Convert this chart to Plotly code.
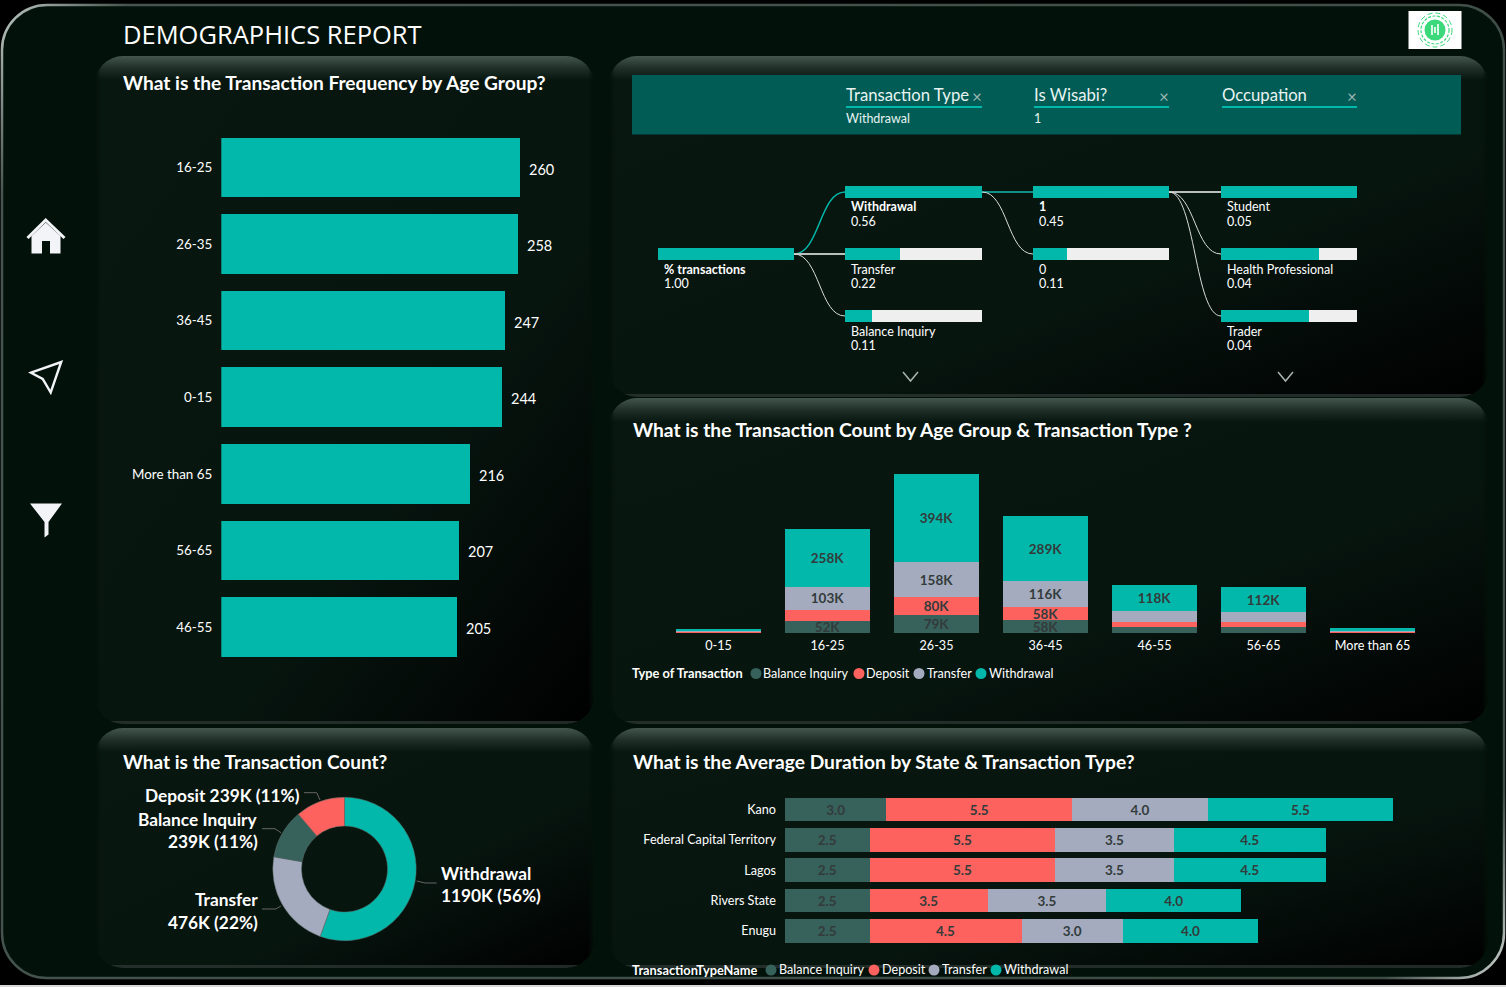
import base64
import plotly.graph_objects as go

W, H = 1506, 987
FONT = "Lato"
TEAL, RED, GREY, DARK = "#01B8AA", "#FD625E", "#A4ABBF", "#37615B"
TYPE_COLORS = [DARK, RED, GREY, TEAL]
TYPES = ["Balance Inquiry", "Deposit", "Transfer", "Withdrawal"]

# ---- data ----
freq_groups = ["16-25", "26-35", "36-45", "0-15", "More than 65", "56-65", "46-55"]
freq_values = [260, 258, 247, 244, 216, 207, 205]

age_groups = ["0-15", "16-25", "26-35", "36-45", "46-55", "56-65", "More than 65"]
age_balance = [3, 52, 79, 58, 27, 25, 3]
age_deposit = [2, 52, 80, 58, 24, 22, 3]
age_transfer = [4, 103, 158, 116, 47, 45, 5]
age_withdrawal = [5, 258, 394, 289, 118, 112, 13]
age_balance_lbl = ["", "52K", "79K", "58K", "", "", ""]
age_deposit_lbl = ["", "", "80K", "58K", "", "", ""]
age_transfer_lbl = ["", "103K", "158K", "116K", "", "", ""]
age_withdrawal_lbl = ["", "258K", "394K", "289K", "118K", "112K", ""]

donut_labels = ["Withdrawal", "Transfer", "Balance Inquiry", "Deposit"]
donut_values = [1190, 476, 239, 239]
donut_colors = [TEAL, GREY, DARK, RED]

states = ["Kano", "Federal Capital Territory", "Lagos", "Rivers State", "Enugu"]
dur_balance = [3.0, 2.5, 2.5, 2.5, 2.5]
dur_deposit = [5.5, 5.5, 5.5, 3.5, 4.5]
dur_transfer = [4.0, 3.5, 3.5, 3.5, 3.0]
dur_withdrawal = [5.5, 4.5, 4.5, 4.0, 4.0]

tree_root = ["% transactions"]
tree_root_val = [1.00]
tree_type = ["Withdrawal", "Transfer", "Balance Inquiry"]
tree_type_val = [0.556, 0.224, 0.111]
tree_wisabi = ["1", "0"]
tree_wisabi_val = [0.445, 0.11]
tree_occ = ["Student", "Health Professional", "Trader"]
tree_occ_val = [0.054, 0.039, 0.0351]
tree_headers = ["Transaction Type", "Is Wisabi?", "Occupation"]
tree_header_sub = ["Withdrawal", "1", ""]


def px(x):
    return x / W


def py(y):
    return 1 - y / H


def panel(i, x, y, w, h, r=28):
    return f'''
<clipPath id="c{i}"><rect x="{x}" y="{y}" width="{w}" height="{h}" rx="{r}"/></clipPath>
<g clip-path="url(#c{i})">
<rect x="{x}" y="{y}" width="{w}" height="{h}" fill="url(#pg)"/>
<rect x="{x}" y="{y}" width="{w}" height="24" fill="url(#top)"/>
<rect x="{x}" y="{y}" width="6" height="{h}" fill="url(#lft)"/>
<rect x="{x+w-6}" y="{y}" width="6" height="{h}" fill="url(#rgt)"/>
<rect x="{x}" y="{y+h-3}" width="{w}" height="3" fill="#2a3531" opacity="0.8"/>
</g>'''


svg = f'''<svg xmlns="http://www.w3.org/2000/svg" width="{W}" height="{H}" viewBox="0 0 {W} {H}">
<defs>
<linearGradient id="pg" x1="0" y1="0" x2="1" y2="1">
<stop offset="0" stop-color="#08170f"/><stop offset="0.62" stop-color="#07150f"/><stop offset="1" stop-color="#000"/></linearGradient>
<linearGradient id="top" x1="0" y1="0" x2="0" y2="1">
<stop offset="0" stop-color="#43564e"/><stop offset="0.5" stop-color="#1f3029"/><stop offset="1" stop-color="#1f3029" stop-opacity="0"/></linearGradient>
<linearGradient id="lft" x1="0" y1="0" x2="1" y2="0">
<stop offset="0" stop-color="#031009"/><stop offset="1" stop-color="#031009" stop-opacity="0"/></linearGradient>
<linearGradient id="rgt" x1="1" y1="0" x2="0" y2="0">
<stop offset="0" stop-color="#031009"/><stop offset="1" stop-color="#031009" stop-opacity="0"/></linearGradient>
<linearGradient id="rim" gradientUnits="userSpaceOnUse" x1="0" y1="0" x2="{W}" y2="{H}">
<stop offset="0" stop-color="#c3ccc8"/><stop offset="0.06" stop-color="#46554f"/><stop offset="0.94" stop-color="#3d4b45"/><stop offset="1" stop-color="#d5dcd8"/></linearGradient>
</defs>
<rect width="{W}" height="{H}" fill="#000"/>
<rect x="0" y="985" width="{W}" height="2" fill="#d8d8d8"/>
<rect x="2" y="5" width="1502" height="973" rx="45" fill="#03110b" stroke="url(#rim)" stroke-width="2.5"/>
{panel(1, 95, 56, 499, 668)}
{panel(3, 609, 398, 879, 326)}
{panel(2, 609, 56, 879, 341)}
{panel(4, 95, 728, 499, 240)}
{panel(5, 609, 728, 879, 240)}
<rect x="632" y="75" width="829" height="59.5" fill="#005C55"/>
<path d="M903 372 L910.5 381 L918 372 M1278 372 L1285.5 381 L1293 372" fill="none" stroke="#a9b3af" stroke-width="1.5"/>
<path d="M27.5 238 L45.7 220 L64.5 238" fill="none" stroke="#f3f4f8" stroke-width="3"/>
<path d="M31.5 236 L45.7 222.5 L60.5 236 L60.5 253.5 L50 253.5 L50 241 L42 241 L42 253.5 L31.5 253.5 Z" fill="#f3f4f8"/>
<path d="M31 372.7 L61.2 362 L50.7 392.5 L42.7 379 Z" fill="none" stroke="#f3f4f8" stroke-width="2.4" stroke-linejoin="miter"/>
<path d="M30 503.5 L62 503.5 L48.5 522 L48.5 534.5 L44.5 537.5 L44.5 522 Z" fill="#f3f4f8"/>
<rect x="1408.5" y="11" width="53" height="38" fill="#fff"/>
<circle cx="1435" cy="30" r="10.5" fill="#3bd97c"/>
<circle cx="1435" cy="30" r="14" fill="none" stroke="#3bd97c" stroke-width="1.2" stroke-dasharray="3 1.5"/>
<circle cx="1435" cy="30" r="17" fill="none" stroke="#3bd97c" stroke-width="1" stroke-dasharray="5 3"/>
<path d="M1432 25 V35 M1435 27 V33 M1438 24 V35" stroke="#fff" stroke-width="1.6"/>
</svg>'''
bg_uri = "data:image/svg+xml;base64," + base64.b64encode(svg.encode()).decode()

fig = go.Figure()
annotations, shapes = [], []


def label(x, y, text, size=12.5, color="#ffffff", weight=None, anchor="left", family=FONT):
    t = f"<b>{text}</b>" if weight == "b" else text
    annotations.append(dict(xref="paper", yref="paper", x=px(x), y=py(y), text=t, showarrow=False,
                            xanchor=anchor, yanchor="middle", align=anchor,
                            font=dict(size=size, color=color, family=family), xshift=0, yshift=0,
                            borderpad=0, borderwidth=0))


def line(points, color="#666666", width=1):
    d = "M" + " L".join(f"{px(a):.5f} {py(b):.5f}" for a, b in points)
    shapes.append(dict(type="path", xref="paper", yref="paper", path=d, line=dict(color=color, width=width)))


def legend(y, title, title_x, dots, texts):
    label(title_x, y - 0.5, title, size=12.8, weight="b")
    for n, col, dx, tx in zip(TYPES, TYPE_COLORS, dots, texts):
        shapes.append(dict(type="circle", xref="paper", yref="paper", x0=px(dx - 5.5), x1=px(dx + 5.5),
                           y0=py(y + 5.5), y1=py(y - 5.5), fillcolor=col, line=dict(width=0)))
        label(tx, y - 0.5, n, size=12.6)


# ---- frequency bars ----
fig.add_trace(go.Bar(y=freq_groups, x=freq_values, orientation="h", marker=dict(color=TEAL, line=dict(width=0)),
                     xaxis="x", yaxis="y"))
for g, v in zip(freq_groups, freq_values):
    annotations.append(dict(xref="x", yref="y", x=v, y=g, text=str(v), showarrow=False, xanchor="left",
                            yanchor="middle", xshift=7, yshift=-1.5,
                            font=dict(size=14.5, color="#fff", family=FONT)))

# ---- stacked columns ----
for name, col, vals, lbl in zip(TYPES, TYPE_COLORS, [age_balance, age_deposit, age_transfer, age_withdrawal],
                                [age_balance_lbl, age_deposit_lbl, age_transfer_lbl, age_withdrawal_lbl]):
    fig.add_trace(go.Bar(x=age_groups, y=vals, name=name, marker=dict(color=col, line=dict(width=0)), text=lbl,
                         textposition="inside", insidetextanchor="middle", constraintext="none", textangle=0,
                         cliponaxis=False, textfont=dict(size=13.5, color="#333b3b", family=FONT, weight="bold"),
                         xaxis="x2", yaxis="y2"))

# ---- state durations ----
for name, col, vals in zip(TYPES, TYPE_COLORS, [dur_balance, dur_deposit, dur_transfer, dur_withdrawal]):
    fig.add_trace(go.Bar(y=states, x=vals, name=name, orientation="h", marker=dict(color=col, line=dict(width=0)),
                         text=[f"{v:.1f}" for v in vals], textposition="inside", insidetextanchor="middle",
                         constraintext="none", textangle=0,
                         textfont=dict(size=13.5, color="#333b3b", family=FONT, weight="bold"),
                         xaxis="x3", yaxis="y3"))

# ---- donut ----
fig.add_trace(go.Pie(labels=donut_labels, values=donut_values, hole=0.6, sort=False, direction="clockwise", rotation=0,
                     marker=dict(colors=donut_colors, line=dict(color="#5b6a66", width=0.5)), textinfo="none",
                     domain=dict(x=[px(344.5 - 71.7), px(344.5 + 71.7)], y=[py(869 + 71.7), py(869 - 71.7)])))

# ---- decomposition tree ----
COLS = [(658, 794), (845, 982), (1033, 1169), (1221, 1357)]
ROW_Y = [192, 254, 316]
tree_cols = [(tree_root, tree_root_val, [1]), (tree_type, tree_type_val, [0, 1, 2]),
             (tree_wisabi, tree_wisabi_val, [0, 1]), (tree_occ, tree_occ_val, [0, 1, 2])]
tree_axes = ["x4", "x5", "x6", "x7"]
for (names, vals, rows), xa in zip(tree_cols, tree_axes):
    top = max(vals)
    fig.add_trace(go.Bar(y=rows, x=vals, orientation="h", width=0.19, marker=dict(color=TEAL, line=dict(width=0)),
                         xaxis=xa, yaxis="y4"))
    fig.add_trace(go.Bar(y=rows, x=[top - v for v in vals], orientation="h", width=0.19,
                         marker=dict(color="#EFEFEF", line=dict(width=0)), xaxis=xa, yaxis="y4"))


def link(c0, r0, c1, r1, color, width):
    x0, x1 = COLS[c0][1], COLS[c1][0]
    y0, y1 = ROW_Y[r0], ROW_Y[r1]
    mid = (x0 + x1) / 2
    d = (f"M{px(x0):.5f} {py(y0):.5f} C{px(mid):.5f} {py(y0):.5f} {px(mid):.5f} {py(y1):.5f} "
         f"{px(x1):.5f} {py(y1):.5f}")
    shapes.append(dict(type="path", xref="paper", yref="paper", path=d, line=dict(color=color, width=width)))


link(0, 1, 1, 0, TEAL, 1.5)
link(0, 1, 1, 1, "#b9bfbc", 1.8)
link(0, 1, 1, 2, "#d8dcda", 1)
link(1, 0, 2, 0, "#0f8f85", 1.8)
link(1, 0, 2, 1, "#d8dcda", 1)
link(2, 0, 3, 0, "#b9bfbc", 1.8)
link(2, 0, 3, 1, "#d8dcda", 1)
link(2, 0, 3, 2, "#d8dcda", 1)

NAME_Y = [206, 269.3, 331.5]
VAL_Y = [221.5, 283.5, 345.5]
for c, (names, vals, rows) in enumerate(tree_cols):
    for n, v, r in zip(names, vals, rows):
        bold = (c == 0) or (c == 1 and r == 0) or (c == 2 and r == 0)
        label(COLS[c][0] + 6, NAME_Y[r], n, size=12.5, weight="b" if bold else None)
        label(COLS[c][0] + 6, VAL_Y[r], f"{v:.2f}", size=12.5)

for (x0, x1), head, sub in zip(COLS[1:], tree_headers, tree_header_sub):
    label(x0 + 1, 95, head, size=16.7, color="#e8f3f1")
    if sub:
        label(x0 + 1, 119, sub, size=12.5, color="#e8f3f1")
    line([(x0 + 1, 107), (x1, 107)], color=TEAL, width=2)
    label(x1 - 5, 96, "×", size=17, color="#9db5b0", anchor="center")

# ---- titles ----
label(123, 33.5, "DEMOGRAPHICS REPORT", size=25.5, family="Open Sans")
label(123, 82.5, "What is the Transaction Frequency by Age Group?", size=19.15, weight="b")
label(633, 429.5, "What is the Transaction Count by Age Group &amp; Transaction Type ?", size=19.2, weight="b")
label(123, 761.5, "What is the Transaction Count?", size=19, weight="b")
label(633, 761.5, "What is the Average Duration by State &amp; Transaction Type?", size=19.2, weight="b")

# ---- donut labels ----
label(300, 795, "Deposit 239K (11%)", size=17.3, weight="b", anchor="right")
label(258, 819, "Balance Inquiry", size=17.3, weight="b", anchor="right")
label(258, 841, "239K (11%)", size=17.3, weight="b", anchor="right")
label(258, 899, "Transfer", size=17.3, weight="b", anchor="right")
label(258, 922, "476K (22%)", size=17.3, weight="b", anchor="right")
label(441, 873, "Withdrawal", size=17.3, weight="b")
label(441, 895, "1190K (56%)", size=17.3, weight="b")
line([(304, 792.7), (316.7, 792.7), (320, 800)])
line([(262, 828.7), (275, 828.7), (281, 832.7)])
line([(262, 909), (275.7, 909), (281, 906)])
line([(436.7, 883), (425, 883), (416.7, 881)])

legend(673.5, "Type of Transaction", 632, [756, 859, 919, 981], [763, 866, 927, 989])
legend(970, "TransactionTypeName", 632, [771, 874, 934, 996], [779, 882, 942, 1004])

noax = dict(showgrid=False, zeroline=False, showline=False, ticks="")
hidden = dict(visible=False, **noax)
tick = dict(size=12.6, color="#ffffff", family=FONT)
tick_big = dict(size=13.4, color="#ffffff", family=FONT)
tree_ax = {}
for i, ((x0, x1), (_, vals, _)) in enumerate(zip(COLS, tree_cols)):
    tree_ax[f"xaxis{4 + i}"] = dict(domain=[px(x0), px(x1)], range=[0, max(vals)], anchor="y4", **hidden)

fig.update_layout(
    width=W, height=H, margin=dict(l=0, r=0, t=0, b=0, pad=0), autosize=False, showlegend=False,
    paper_bgcolor="#000000", plot_bgcolor="rgba(0,0,0,0)", barmode="stack", font=dict(family=FONT, color="#fff"),
    images=[dict(source=bg_uri, xref="paper", yref="paper", x=0, y=1, sizex=1, sizey=1, sizing="stretch",
                 xanchor="left", yanchor="top", layer="below")],
    annotations=annotations, shapes=shapes,
    # frequency
    xaxis=dict(domain=[px(221.3), px(221.3 + 345)], range=[0, 300], anchor="y", **hidden),
    yaxis=dict(domain=[py(665.25), py(129.25)], type="category", autorange="reversed", anchor="x", tickfont=tick_big,
               ticklabelstandoff=8, **noax),
    bargap=0.222,
    # columns
    xaxis2=dict(domain=[px(664), px(1427)], type="category", anchor="y2", tickfont=tick, ticklabelstandoff=3, **noax),
    yaxis2=dict(domain=[py(633), py(454)], range=[0, 800], anchor="x2", **hidden),
    # states
    xaxis3=dict(domain=[px(785), px(785 + 33.8 * 20)], range=[0, 20], anchor="y3", **hidden),
    yaxis3=dict(domain=[py(946), py(794.5)], type="category", autorange="reversed", anchor="x3", tickfont=tick,
                ticklabelstandoff=8, **noax),
    # tree
    yaxis4=dict(domain=[py(347), py(161)], range=[2.5, -0.5], anchor="x4", **hidden),
    **tree_ax,
)

fig.write_html("out.html", config=dict(displayModeBar=False, responsive=False),
               post_script="document.body.style.margin='0';document.body.style.overflow='hidden';")
